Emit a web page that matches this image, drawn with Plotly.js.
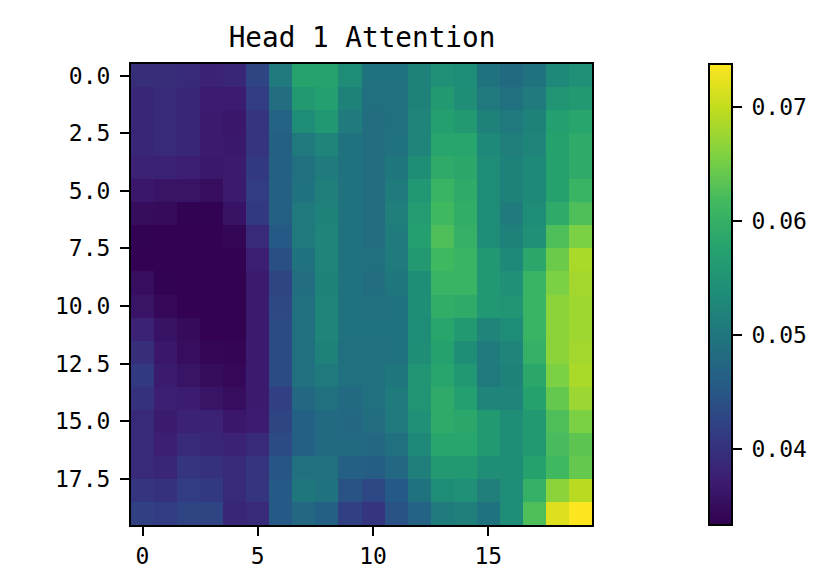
<!DOCTYPE html>
<html><head><meta charset="utf-8">
<script src="https://cdn.plot.ly/plotly-3.0.1.min.js"></script>
<style>html,body{margin:0;padding:0;background:#fff}#c{width:826px;height:582px}</style>
</head><body><div id="c"></div>
<script>
const row0=[.0395,.0395,.039,.038,.0385,.0425,.0505,.0578,.0578,.0535,.0495,.0495,.052,.0545,.0535,.0495,.048,.0495,.053,.0545];
const row1=[.0385,.039,.0385,.0372,.0372,.0415,.0485,.056,.057,.052,.049,.049,.052,.056,.054,.0505,.049,.051,.055,.056];
const row2=[.0385,.039,.0385,.037,.0365,.0405,.047,.0535,.0555,.051,.0485,.049,.0525,.057,.056,.052,.0505,.052,.057,.058];
const row3=[.0385,.039,.0385,.037,.0368,.0405,.0465,.0505,.0525,.0495,.0485,.0495,.0525,.058,.058,.053,.0515,.0525,.0575,.059];
const row4=[.038,.0378,.0375,.0368,.037,.041,.0465,.049,.051,.0495,.0485,.05,.054,.059,.0585,.0535,.052,.053,.0575,.059];
const row5=[.0365,.036,.036,.0352,.037,.0415,.0465,.0495,.0515,.0495,.0485,.051,.0555,.0605,.059,.0535,.052,.053,.0575,.0605];
const row6=[.035,.0348,.0338,.0338,.0358,.041,.0465,.0505,.052,.0495,.0485,.0515,.0565,.0615,.0595,.0535,.051,.0535,.059,.0625];
const row7=[.0338,.0337,.0337,.0337,.0342,.039,.0455,.0505,.0525,.0495,.0485,.051,.057,.0625,.06,.0535,.052,.0545,.0625,.0655];
const row8=[.0337,.0336,.0336,.0336,.0337,.0375,.044,.0495,.0525,.0495,.049,.051,.056,.0615,.0605,.0555,.053,.0585,.0645,.0685];
const row9=[.0352,.0338,.0336,.0336,.0336,.037,.0425,.0485,.052,.0495,.0485,.05,.054,.0605,.0605,.0555,.0545,.0605,.0655,.068];
const row10=[.036,.0345,.0337,.0336,.0336,.037,.043,.049,.0525,.0495,.049,.0495,.054,.0595,.059,.0555,.055,.0605,.0665,.0677];
const row11=[.038,.0358,.0348,.0336,.0336,.037,.0435,.049,.0525,.0495,.0495,.0495,.0535,.058,.056,.0525,.0535,.0605,.0665,.0677];
const row12=[.0395,.0365,.0352,.0342,.034,.037,.0435,.049,.052,.049,.049,.0495,.054,.0575,.054,.051,.0525,.06,.0665,.068];
const row13=[.041,.037,.036,.035,.0345,.037,.0435,.049,.0505,.049,.049,.05,.055,.058,.0555,.0505,.052,.0585,.0655,.0685];
const row14=[.04,.0375,.0372,.036,.0352,.037,.042,.0475,.049,.048,.049,.051,.055,.059,.057,.0525,.0525,.0575,.064,.0675];
const row15=[.039,.037,.038,.038,.0365,.0372,.0425,.0465,.048,.0475,.0485,.0505,.0545,.059,.0585,.056,.054,.056,.0625,.0655];
const row16=[.039,.0375,.039,.0385,.038,.039,.0435,.0465,.048,.048,.0475,.049,.053,.058,.058,.056,.054,.056,.062,.0635];
const row17=[.039,.0385,.0405,.04,.039,.0405,.045,.049,.049,.0465,.046,.0475,.0515,.056,.056,.054,.054,.0575,.0615,.064];
const row18=[.0405,.04,.0415,.041,.039,.0405,.0455,.05,.0495,.0445,.043,.0455,.0495,.0535,.0545,.0515,.0535,.06,.0665,.0693];
const row19=[.042,.0415,.0425,.0425,.0385,.039,.0455,.0475,.0465,.042,.0405,.0445,.047,.051,.0515,.0495,.0535,.0625,.0717,.0738];
const z=[row0,row1,row2,row3,row4,row5,row6,row7,row8,row9,row10,row11,row12,row13,row14,row15,row16,row17,row18,row19];
const cbTicks=[0.04,0.05,0.06,0.07];
const scale=[[0,'#32004f'],[.1,'#3c1e72'],[.2,'#323c82'],[.3,'#265a86'],[.4,'#20737e'],[.5,'#1f8c78'],[.6,'#25a26e'],[.7,'#41b960'],[.8,'#7dd142'],[.9,'#bfdc1f'],[1,'#fde51f']];
const W=826,H=582,F='"DejaVu Sans Mono","Liberation Mono",monospace';
Plotly.newPlot('c',[{type:'heatmap',z:z,zmin:0.03337,zmax:0.07374,zsmooth:false,colorscale:scale,hoverinfo:'skip',
 colorbar:{x:709/W,xanchor:'left',xpad:0,ypad:0,y:1-64/H,yanchor:'top',lenmode:'pixels',len:461,thicknessmode:'pixels',thickness:23,
  outlinewidth:2,outlinecolor:'#000',tickmode:'array',tickvals:cbTicks,ticktext:cbTicks.map(v=>'<span style="font-size:9px">\u00a0</span>'+v.toFixed(2)),ticks:'outside',ticklen:9,tickwidth:2,tickcolor:'#000',
  tickfont:{family:F,size:23,color:'#000'}}}],
 {width:W,height:H,margin:{l:0,r:0,t:0,b:0,pad:0,autoexpand:false},paper_bgcolor:'#fff',plot_bgcolor:'#fff',
  title:{text:'Head 1 Attention',x:362/W,xanchor:'center',xref:'paper',y:1-47/H,yanchor:'bottom',yref:'paper',font:{family:F,size:27.7,color:'#000'}},
  xaxis:{domain:[131/W,592/W],range:[-.5,19.5],tick0:0,dtick:5,ticks:'outside',ticklen:9,tickwidth:2,tickcolor:'#000',showline:true,linewidth:2,linecolor:'#000',mirror:true,showgrid:false,zeroline:false,tickfont:{family:F,size:23,color:'#000'},automargin:false},
  yaxis:{domain:[1-525/H,1-64/H],range:[19.5,-.5],tick0:0,dtick:2.5,tickformat:'.1f',ticks:'outside',ticklen:9,tickwidth:2,tickcolor:'#000',ticklabelstandoff:5,showline:true,linewidth:2,linecolor:'#000',mirror:true,showgrid:false,zeroline:false,tickfont:{family:F,size:23,color:'#000'},automargin:false}
 },{displayModeBar:false,staticPlot:true});
</script></body></html>
